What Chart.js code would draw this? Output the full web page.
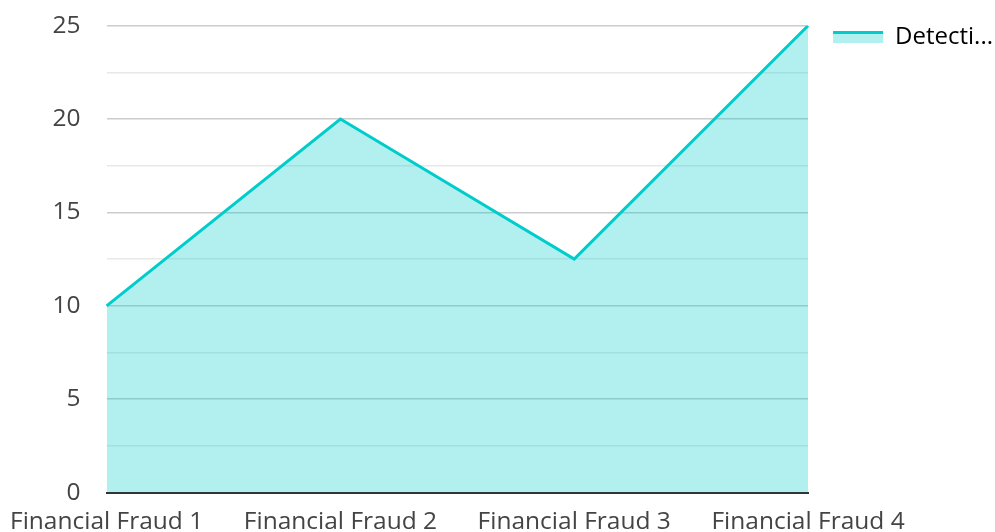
<!DOCTYPE html>
<html>
<head>
<meta charset="utf-8">
<script src="https://cdn.jsdelivr.net/npm/chart.js@4"></script>
<style>
  html, body { margin: 0; padding: 0; background: #fff; }
  .chart-wrap { width: 995px; height: 532px; }
</style>
</head>
<body>
<div class="chart-wrap"><canvas id="line-chart"></canvas></div>
<script>
const categories = ['Financial Fraud 1', 'Financial Fraud 2', 'Financial Fraud 3', 'Financial Fraud 4'];
const detections = [10, 20, 12.5, 25];
const seriesLabel = 'Detecti...';

const lineColor = 'rgb(0, 204, 204)';
const fillColor = 'rgba(0, 204, 204, 0.3)';

// draws the legend swatch as a line over a filled band
const legendSwatch = {
  id: 'legendSwatch',
  afterDraw(chart) {
    const box = chart.legend && chart.legend.legendHitBoxes && chart.legend.legendHitBoxes[0];
    if (!box) return;
    const ctx = chart.ctx;
    const w = 50, h = 12;
    const x = box.left, y = box.top + (box.height - h) / 2;
    ctx.save();
    ctx.fillStyle = fillColor;
    ctx.fillRect(x, y, w, h);
    ctx.fillStyle = lineColor;
    ctx.fillRect(x, y, w, 3);
    ctx.restore();
  }
};

new Chart(document.getElementById('line-chart').getContext('2d'), {
  type: 'line',
  data: {
    labels: categories,
    datasets: [{
      label: seriesLabel,
      data: detections,
      borderColor: lineColor,
      backgroundColor: fillColor,
      borderWidth: 3,
      fill: 'origin',
      tension: 0,
      pointRadius: 0,
    }],
  },
  options: {
    responsive: true,
    maintainAspectRatio: false,
    animation: false,
    layout: { padding: { top: 0, right: -8, left: 0, bottom: -15 } },
    plugins: {
      tooltip: { enabled: false },
      legend: {
        position: 'right',
        align: 'start',
        labels: {
          boxWidth: 50,
          boxHeight: 12,
          padding: 25,
          color: '#222',
          font: { family: 'Open Sans', size: 24 },
          generateLabels: (chart) => [{
            text: seriesLabel,
            fillStyle: 'rgba(0,0,0,0)',
            strokeStyle: 'rgba(0,0,0,0)',
            lineWidth: 0,
            datasetIndex: 0,
          }],
        },
      },
    },
    scales: {
      x: {
        offset: false,
        grid: { display: false, drawTicks: true, tickLength: 5 },
        border: { display: true, color: '#333', width: 2 },
        ticks: {
          color: '#444',
          maxRotation: 0,
          autoSkip: false,
          padding: 10,
          font: { family: 'Open Sans', size: 24.5 },
        },
      },
      y: {
        min: 0,
        max: 25,
        border: { display: false },
        grid: {
          drawTicks: true,
          tickLength: 15,
          tickColor: 'rgba(0,0,0,0)',
          color: (ctx) => (ctx.tick && ctx.tick.value % 5 === 0 ? '#cccccc' : '#e8e8e8'),
          lineWidth: 1.5,
        },
        ticks: {
          stepSize: 2.5,
          color: '#444',
          padding: 11,
          font: { family: 'Open Sans', size: 24.5 },
          callback: (v) => (v % 5 === 0 ? v : ''),
        },
      },
    },
  },
  plugins: [legendSwatch],
});
</script>
</body>
</html>
